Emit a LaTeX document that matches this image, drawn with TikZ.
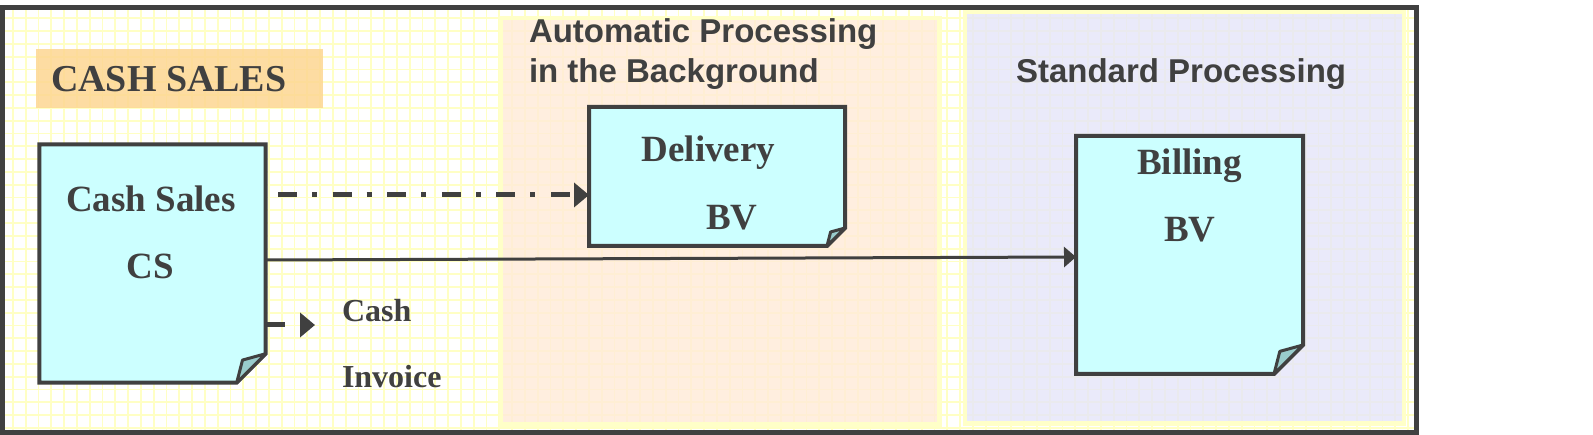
\documentclass[tikz,border=0pt]{standalone}
\usepackage{fontspec}
\setmainfont{Liberation Serif}
\newfontfamily\arialfont{Liberation Sans}
\usetikzlibrary{arrows.meta}
\definecolor{ink}{HTML}{404040}
\definecolor{docfill}{HTML}{CCFFFF}
\definecolor{foldfill}{HTML}{99CCCC}
\definecolor{gridyel}{HTML}{FFFFC4}
\definecolor{peach}{HTML}{FFEAD8}
\definecolor{lav}{HTML}{E5E5F9}
\definecolor{orangebox}{HTML}{FDD792}
\definecolor{panelrim}{HTML}{FFFFC8}
\tikzset{
  serifbig/.style={font=\fontsize{37}{40}\selectfont\bfseries, text=ink, inner sep=0pt, outer sep=0pt, anchor=base},
  seriftitle/.style={font=\fontsize{38}{41}\selectfont\bfseries, text=ink, inner sep=0pt, outer sep=0pt, anchor=base west},
  serifsmall/.style={font=\fontsize{32}{36}\selectfont\bfseries, text=ink, inner sep=0pt, outer sep=0pt, anchor=base west},
  sanshead/.style={font=\arialfont\fontsize{33}{36}\selectfont\bfseries, text=ink, inner sep=0pt, outer sep=0pt, anchor=base west},
  docshape/.style={rectangle, inner sep=0pt, outer sep=0pt},
  docline/.style={draw=ink, line width=4pt, fill=docfill},
  foldline/.style={draw=ink, line width=3pt, fill=foldfill, line join=round},
  panel/.style={draw=panelrim, line width=4.5pt, fill opacity=0.8},
  gridline/.style={draw=gridyel, line width=1.8pt},
  dashdotarrow/.style={draw=ink, line width=5pt, dash pattern=on 19pt off 15pt on 5pt off 15.6pt, -{Triangle[length=15pt,width=24pt]}},
  smalldasharrow/.style={draw=ink, line width=5pt, dash pattern=on 19pt off 40pt, -{Triangle[length=15pt,width=24pt]}},
  solidarrow/.style={draw=ink, line width=3pt, -{Triangle[length=12pt,width=20pt]}},
}
\newcommand\docoutline[2]{%
  \path[docline] (#1.north west) -- (#1.north east) -- ([yshift=#2pt]#1.south east)
     -- ([xshift=-#2pt]#1.south east) -- (#1.south west) -- cycle;
  \path[foldline] ([xshift=-#2pt]#1.south east) -- ([xshift=-0.8*#2pt, yshift=0.78*#2pt]#1.south east)
     -- ([yshift=#2pt]#1.south east) -- cycle;
}
\begin{document}
\begin{tikzpicture}[x=1pt,y=-1pt]
\useasboundingbox (0,0) rectangle (1593,435);
\fill[white] (0,0) rectangle (1593,435);
% grid
\begin{scope}
  \clip (2.5,7.5) rectangle (1416,432);
  \foreach \i in {0,...,111} \draw[gridline] (\i*12.8,0) -- (\i*12.8,435);
  \foreach \j in {0,...,34} \draw[gridline] (0,5.5+\j*12.8) -- (1416,5.5+\j*12.8);
\end{scope}
% panels
\path[panel, fill=peach] (501,18) rectangle (939.5,424.5);
\path[panel, fill=lav] (965,11.5) rectangle (1404,423.5);
\fill[orangebox, fill opacity=0.85] (36,49) rectangle (323,108);
% titles
\node[seriftitle] (title) at (51,92) {CASH SALES};
\node[sanshead] (auto1) at (529,43) {Automatic Processing};
\node[sanshead] (auto2) at (529,83) {in the Background};
\node[sanshead] (std) at (1016,83) {Standard Processing};
% documents
\node[docshape, minimum width=226.4pt, minimum height=238.4pt] (cs) at (152.5,263.5) {};
\node[docshape, minimum width=256pt, minimum height=139pt] (del) at (717,176.5) {};
\node[docshape, minimum width=227pt, minimum height=238pt] (bill) at (1189.5,255) {};
\docoutline{cs}{29}
\docoutline{del}{18}
\docoutline{bill}{29}
% document texts
\node[serifbig] (cst1) at (151,212) {Cash Sales};
\node[serifbig] (cst2) at (150.5,279) {CS};
\node[serifbig] (delt1) at (708.5,162) {Delivery};
\node[serifbig] (delt2) at (732,230) {BV};
\node[serifbig] (billt1) at (1189.5,175) {Billing};
\node[serifbig] (billt2) at (1190,242) {BV};
\node[serifsmall] (cash) at (342,322) {Cash};
\node[serifsmall] (inv) at (342,388) {Invoice};
% connectors
\coordinate (ciarrow) at (315,325);
\draw[dashdotarrow, shorten <=12.3pt] ([yshift=68.5pt]cs.east) -- ([yshift=68.5pt]cs.east -| del.west);
\draw[solidarrow] ([yshift=3.5pt]cs.east) -- ([yshift=-2pt]bill.west);
\draw[smalldasharrow] ([yshift=-61.5pt]cs.east) -- (ciarrow);
% frame
\draw[ink, line width=5pt] (2.5,7.5) rectangle (1416,432);
\end{tikzpicture}
\end{document}
